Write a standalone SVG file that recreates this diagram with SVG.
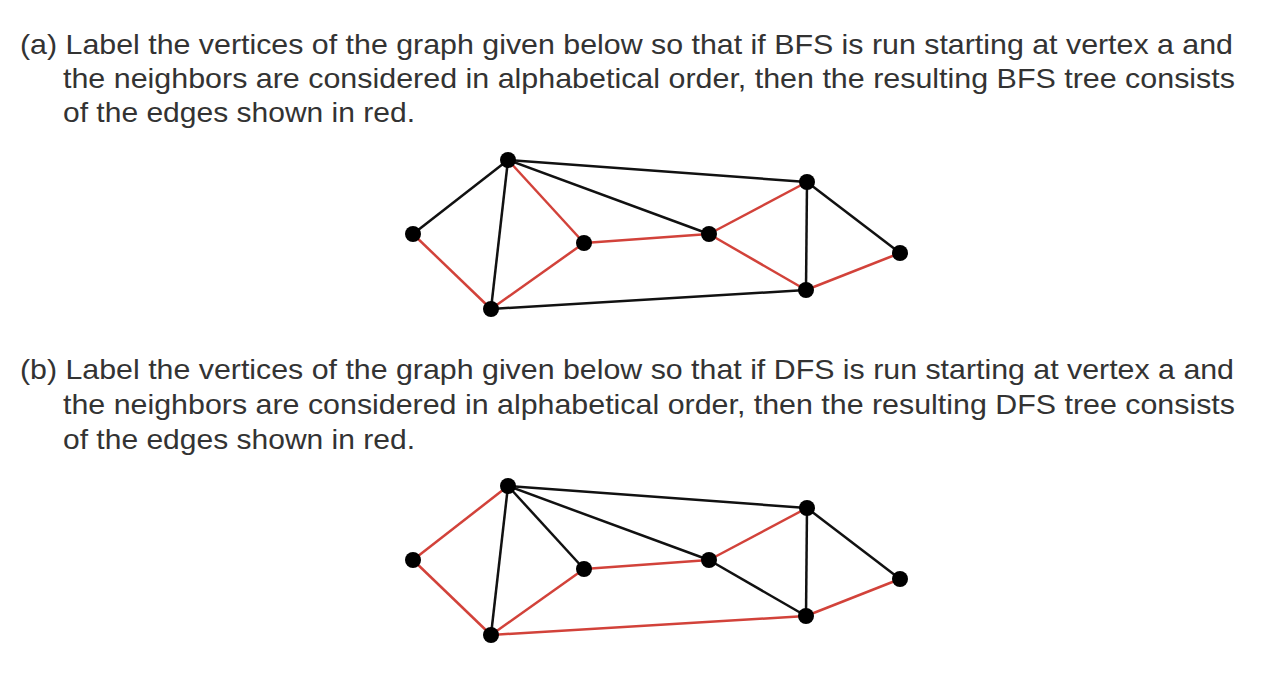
<svg xmlns="http://www.w3.org/2000/svg" width="1278" height="674" viewBox="0 0 1278 674">
<style>
text{font-family:"Liberation Sans",Arial,sans-serif;font-size:28px;fill:#333}
.k{stroke:#111;stroke-width:2.5}
.r{stroke:#d2423a;stroke-width:2.5}
circle{fill:#000}
</style>
<rect width="1278" height="674" fill="#fff"/>
<g id="textA">
<text x="20" y="54" textLength="1213" lengthAdjust="spacingAndGlyphs">(a) Label the vertices of the graph given below so that if BFS is run starting at vertex a and</text>
<text x="63" y="88" textLength="1172" lengthAdjust="spacingAndGlyphs">the neighbors are considered in alphabetical order, then the resulting BFS tree consists</text>
<text x="63" y="122" textLength="352" lengthAdjust="spacingAndGlyphs">of the edges shown in red.</text>
</g>
<g id="textB">
<text x="20" y="379" textLength="1214" lengthAdjust="spacingAndGlyphs">(b) Label the vertices of the graph given below so that if DFS is run starting at vertex a and</text>
<text x="63" y="414" textLength="1172" lengthAdjust="spacingAndGlyphs">the neighbors are considered in alphabetical order, then the resulting DFS tree consists</text>
<text x="63" y="449" textLength="352" lengthAdjust="spacingAndGlyphs">of the edges shown in red.</text>
</g>
<g id="edges">
<line class="k" x1="508" y1="160" x2="413" y2="234"/>
<line class="k" x1="508" y1="160" x2="491" y2="309"/>
<line class="k" x1="508" y1="160" x2="807" y2="182"/>
<line class="k" x1="508" y1="160" x2="709" y2="234"/>
<line class="k" x1="807" y1="182" x2="806" y2="290"/>
<line class="k" x1="807" y1="182" x2="900" y2="253"/>
<line class="k" x1="491" y1="309" x2="806" y2="290"/>
<line class="r" x1="413" y1="234" x2="491" y2="309"/>
<line class="r" x1="508" y1="160" x2="584" y2="243"/>
<line class="r" x1="584" y1="243" x2="491" y2="309"/>
<line class="r" x1="584" y1="243" x2="709" y2="234"/>
<line class="r" x1="709" y1="234" x2="807" y2="182"/>
<line class="r" x1="709" y1="234" x2="806" y2="290"/>
<line class="r" x1="806" y1="290" x2="900" y2="253"/>

<line class="k" x1="508" y1="486" x2="491" y2="635"/>
<line class="k" x1="508" y1="486" x2="584" y2="569"/>
<line class="k" x1="508" y1="486" x2="709" y2="560"/>
<line class="k" x1="508" y1="486" x2="807" y2="508"/>
<line class="k" x1="709" y1="560" x2="806" y2="616"/>
<line class="k" x1="807" y1="508" x2="806" y2="616"/>
<line class="k" x1="807" y1="508" x2="900" y2="579"/>
<line class="r" x1="508" y1="486" x2="413" y2="560"/>
<line class="r" x1="413" y1="560" x2="491" y2="635"/>
<line class="r" x1="491" y1="635" x2="584" y2="569"/>
<line class="r" x1="584" y1="569" x2="709" y2="560"/>
<line class="r" x1="709" y1="560" x2="807" y2="508"/>
<line class="r" x1="491" y1="635" x2="806" y2="616"/>
<line class="r" x1="806" y1="616" x2="900" y2="579"/>
</g>
<g id="nodesA">
<g id="a1"><circle cx="508" cy="160" r="8"/></g>
<g id="a2"><circle cx="413" cy="234" r="8"/></g>
<g id="a3"><circle cx="491" cy="309" r="8"/></g>
<g id="a4"><circle cx="584" cy="243" r="8"/></g>
<g id="a5"><circle cx="709" cy="234" r="8"/></g>
<g id="a6"><circle cx="807" cy="182" r="8"/></g>
<g id="a7"><circle cx="806" cy="290" r="8"/></g>
<g id="a8"><circle cx="900" cy="253" r="8"/></g>
</g>
<g id="nodesB">
<g id="b1"><circle cx="508" cy="486" r="8"/></g>
<g id="b2"><circle cx="413" cy="560" r="8"/></g>
<g id="b3"><circle cx="491" cy="635" r="8"/></g>
<g id="b4"><circle cx="584" cy="569" r="8"/></g>
<g id="b5"><circle cx="709" cy="560" r="8"/></g>
<g id="b6"><circle cx="807" cy="508" r="8"/></g>
<g id="b7"><circle cx="806" cy="616" r="8"/></g>
<g id="b8"><circle cx="900" cy="579" r="8"/></g>
</g>
</svg>
